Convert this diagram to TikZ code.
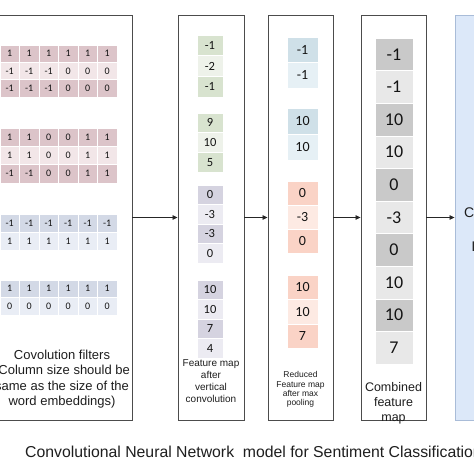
\documentclass[tikz,border=0pt]{standalone}
\usepackage{fontspec}
\setmainfont{Liberation Sans}
\newfontfamily\numf{Carlito}
\usetikzlibrary{arrows.meta}
\definecolor{pinkD}{HTML}{DCC4C9}
\definecolor{pinkL}{HTML}{F2E6E8}
\definecolor{bgD}{HTML}{D3D9E6}
\definecolor{bgL}{HTML}{E9EDF5}
\definecolor{grD}{HTML}{D8E3CF}
\definecolor{grL}{HTML}{EEF2EA}
\definecolor{puD}{HTML}{D5D3E0}
\definecolor{puL}{HTML}{ECEBF2}
\definecolor{blD}{HTML}{CFE0E8}
\definecolor{blL}{HTML}{E6F0F5}
\definecolor{orD}{HTML}{FAD3C6}
\definecolor{orL}{HTML}{FDEAE3}
\definecolor{gyD}{HTML}{C9C9C9}
\definecolor{gyL}{HTML}{E8E8E8}
\definecolor{blueF}{HTML}{DCE8F9}
\definecolor{blueB}{HTML}{A9BCD8}
\definecolor{numtxt}{HTML}{141414}
\definecolor{lbltxt}{HTML}{1E1E1E}
\tikzset{
  panel/.style={draw=black!70, line width=0.9pt, fill=white, inner sep=0pt},
  cellbox/.style={draw=white, line width=0.6pt, inner sep=0pt, text=numtxt},
  arr/.style={-{Triangle[length=5pt,width=4.5pt]}, line width=0.8pt, draw=black!85},
  lbl/.style={align=center, text=lbltxt, inner sep=0pt},
}
\begin{document}
\begin{tikzpicture}[x=1pt,y=-1pt]
\useasboundingbox (0,0) rectangle (474,474);
% panels
\node[panel, minimum width=140pt, minimum height=405pt] (p1) at (62,217.5) {};
\node[panel, minimum width=66pt, minimum height=405pt] (p2) at (211,217.5) {};
\node[panel, minimum width=65pt, minimum height=405pt] (p3) at (300.5,217.5) {};
\node[panel, minimum width=65pt, minimum height=405pt] (p4) at (393.5,217.5) {};
\node[panel, fill=blueF, draw=blueB, minimum width=85pt, minimum height=405pt] (p5) at (497.5,217.5) {};
\draw[arr] (p1) -- (p2);
\draw[arr] (p2) -- (p3);
\draw[arr] (p3) -- (p4);
\draw[arr] (p4) -- (p5);
% filter matrices in panel 1
\foreach \vals [count=\r] in {{1,1,1,1,1,1},{-1,-1,-1,0,0,0},{-1,-1,-1,0,0,0}} {
  \ifodd\r \def\cf{pinkD}\else\def\cf{pinkL}\fi
  \foreach \v [count=\c] in \vals {
    \node[cellbox, fill=\cf, minimum width=19.5pt, minimum height=17.3pt, font=\numf\fontsize{10}{10}\selectfont] (ma-\r-\c) at ({9.75+19.5*(\c-1)},{45+17.3*(\r-0.5)}) {\v};
  }
}
\foreach \vals [count=\r] in {{1,1,0,0,1,1},{1,1,0,0,1,1},{-1,-1,0,0,1,1}} {
  \ifodd\r \def\cf{pinkD}\else\def\cf{pinkL}\fi
  \foreach \v [count=\c] in \vals {
    \node[cellbox, fill=\cf, minimum width=19.5pt, minimum height=18.3pt, font=\numf\fontsize{10}{10}\selectfont] (mb-\r-\c) at ({9.75+19.5*(\c-1)},{128+18.3*(\r-0.5)}) {\v};
  }
}
\foreach \vals [count=\r] in {{-1,-1,-1,-1,-1,-1},{1,1,1,1,1,1}} {
  \ifodd\r \def\cf{bgD}\else\def\cf{bgL}\fi
  \foreach \v [count=\c] in \vals {
    \node[cellbox, fill=\cf, minimum width=19.5pt, minimum height=18pt, font=\numf\fontsize{10}{10}\selectfont] (mc-\r-\c) at ({9.75+19.5*(\c-1)},{214+18*(\r-0.5)}) {\v};
  }
}
\foreach \vals [count=\r] in {{1,1,1,1,1,1},{0,0,0,0,0,0}} {
  \ifodd\r \def\cf{bgD}\else\def\cf{bgL}\fi
  \foreach \v [count=\c] in \vals {
    \node[cellbox, fill=\cf, minimum width=19.5pt, minimum height=17.5pt, font=\numf\fontsize{10}{10}\selectfont] (md-\r-\c) at ({9.75+19.5*(\c-1)},{280+17.5*(\r-0.5)}) {\v};
  }
}
% panel 2 feature maps
\foreach \v [count=\r] in {-1,-2,-1} {
  \ifodd\r \def\cf{grD}\else\def\cf{grL}\fi
  \node[cellbox, fill=\cf, minimum width=26pt, minimum height=20.7pt, font=\numf\fontsize{12.5}{12.5}\selectfont] (fa-\r) at (210,{35+20.7*(\r-0.5)}) {\v};
}
\foreach \v [count=\r] in {9,10,5} {
  \ifodd\r \def\cf{grD}\else\def\cf{grL}\fi
  \node[cellbox, fill=\cf, minimum width=26pt, minimum height=19.7pt, font=\numf\fontsize{12.5}{12.5}\selectfont] (fb-\r) at (210,{113+19.7*(\r-0.5)}) {\v};
}
\foreach \v [count=\r] in {0,-3,-3,0} {
  \ifodd\r \def\cf{puD}\else\def\cf{puL}\fi
  \node[cellbox, fill=\cf, minimum width=26pt, minimum height=19.5pt, font=\numf\fontsize{12.5}{12.5}\selectfont] (fc-\r) at (210,{185+19.5*(\r-0.5)}) {\v};
}
\foreach \v [count=\r] in {10,10,7,4} {
  \ifodd\r \def\cf{puD}\else\def\cf{puL}\fi
  \node[cellbox, fill=\cf, minimum width=26pt, minimum height=19.5pt, font=\numf\fontsize{12.5}{12.5}\selectfont] (fd-\r) at (210,{280+19.5*(\r-0.5)}) {\v};
}
% panel 3 pooled maps
\foreach \v [count=\r] in {-1,-1} {
  \ifodd\r \def\cf{blD}\else\def\cf{blL}\fi
  \node[cellbox, fill=\cf, minimum width=31pt, minimum height=25.5pt, font=\numf\fontsize{14}{14}\selectfont] (ra-\r) at (302.5,{37+25.5*(\r-0.5)}) {\v};
}
\foreach \v [count=\r] in {10,10} {
  \ifodd\r \def\cf{blD}\else\def\cf{blL}\fi
  \node[cellbox, fill=\cf, minimum width=31pt, minimum height=26pt, font=\numf\fontsize{14}{14}\selectfont] (rb-\r) at (302.5,{108+26*(\r-0.5)}) {\v};
}
\foreach \v [count=\r] in {0,-3,0} {
  \ifodd\r \def\cf{orD}\else\def\cf{orL}\fi
  \node[cellbox, fill=\cf, minimum width=31pt, minimum height=24pt, font=\numf\fontsize{14}{14}\selectfont] (rc-\r) at (302.5,{181+24*(\r-0.5)}) {\v};
}
\foreach \v [count=\r] in {10,10,7} {
  \ifodd\r \def\cf{orD}\else\def\cf{orL}\fi
  \node[cellbox, fill=\cf, minimum width=31pt, minimum height=24.5pt, font=\numf\fontsize{14}{14}\selectfont] (rd-\r) at (302.5,{275+24.5*(\r-0.5)}) {\v};
}
% panel 4 combined map
\foreach \v [count=\r] in {-1,-1,10,10,0,-3,0,10,10,7} {
  \ifodd\r \def\cf{gyD}\else\def\cf{gyL}\fi
  \node[cellbox, fill=\cf, minimum width=38pt, minimum height=32.6pt, font=\numf\fontsize{18}{18}\selectfont] (cm-\r) at (394,{38+32.6*(\r-0.5)}) {\v};
}
% labels
\node[lbl, font=\fontsize{13}{15.5}\selectfont] (l1) at (62,379) {Covolution filters\\(Column size should be\\same as the size of the\\word embeddings)};
\node[lbl, font=\fontsize{10}{12}\selectfont] (l2) at (211,381) {Feature map\\after\\vertical\\convolution};
\node[lbl, font=\fontsize{8.5}{9.2}\selectfont] (l3) at (300.5,389.5) {Reduced\\Feature map\\after max\\pooling};
\node[lbl, font=\fontsize{12.5}{15}\selectfont] (l4) at (393.5,403) {Combined\\feature\\map};
\node[lbl, anchor=west, font=\fontsize{14}{14}\selectfont] (l5a) at (464,212) {Classifier};
\node[lbl, anchor=west, font=\fontsize{14}{14}\selectfont] (l5b) at (471.5,248) {Layer};
\node[lbl, anchor=west, font=\fontsize{15.8}{15.8}\selectfont] (title) at (25,452) {Convolutional Neural Network\ \ model for Sentiment Classification};
\end{tikzpicture}
\end{document}
